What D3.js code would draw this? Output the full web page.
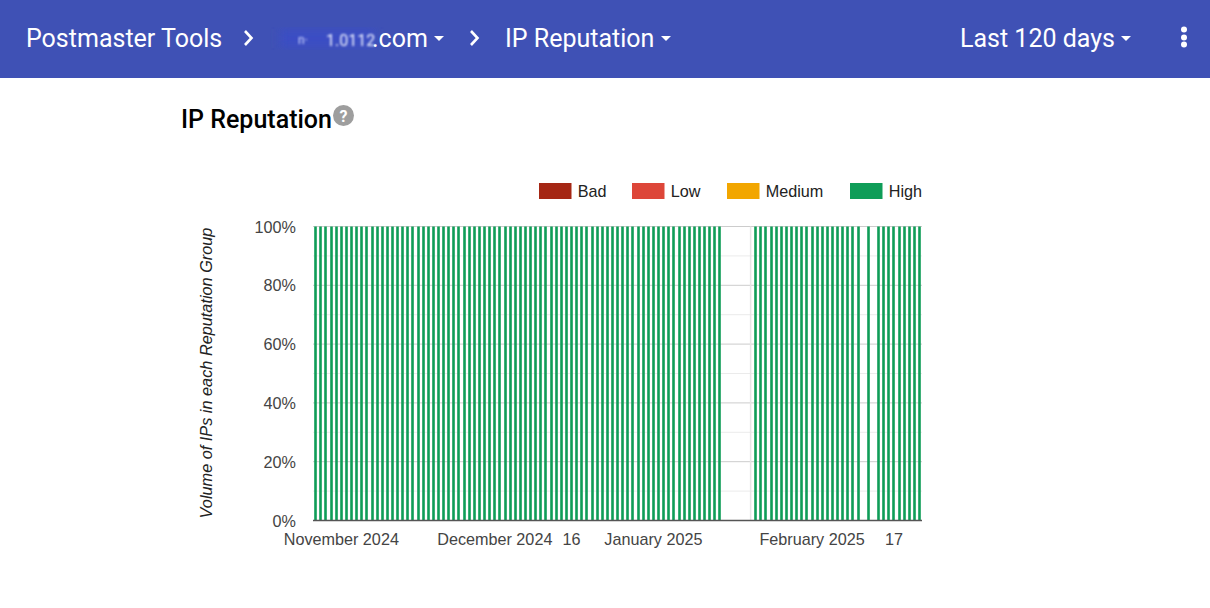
<!DOCTYPE html>
<html><head><meta charset="utf-8">
<script src="https://cdnjs.cloudflare.com/ajax/libs/d3/7.8.5/d3.min.js"></script>
<style>html,body{margin:0;padding:0;background:#fff;overflow:hidden}svg{display:block}</style>
</head><body><svg id="c" width="1210" height="608"></svg>
<script>
const breadcrumb = ["Postmaster Tools", ".com", "IP Reputation"];
const rangeLabel = "Last 120 days";
const chartTitle = "IP Reputation";
const yAxisTitle = "Volume of IPs in each Reputation Group";
const groups = ["Bad", "Low", "Medium", "High"];
const groupColors = ["#a52714", "#dd4639", "#f2a600", "#0f9d58"];
const yTicks = [0, 20, 40, 60, 80, 100];
const yMinorTicks = [10, 30, 50, 70, 90];
const xTickDates = ["2024-11-01", "2024-12-01", "2024-12-16", "2025-01-01", "2025-02-01", "2025-02-17"];
const xTickLabels = ["November 2024", "December 2024", "16", "January 2025", "February 2025", "17"];
const xGridDates = ["2025-01-20"];
const days = [
"2024-10-27","2024-10-28","2024-10-29","2024-10-30","2024-10-31",
"2024-11-01","2024-11-02","2024-11-03","2024-11-04","2024-11-05","2024-11-06","2024-11-07","2024-11-08","2024-11-09","2024-11-10",
"2024-11-11","2024-11-12","2024-11-13","2024-11-14","2024-11-15","2024-11-16","2024-11-17","2024-11-18","2024-11-19","2024-11-20",
"2024-11-21","2024-11-22","2024-11-23","2024-11-24","2024-11-25","2024-11-26","2024-11-27","2024-11-28","2024-11-29","2024-11-30",
"2024-12-01","2024-12-02","2024-12-03","2024-12-04","2024-12-05","2024-12-06","2024-12-07","2024-12-08","2024-12-09","2024-12-10",
"2024-12-11","2024-12-12","2024-12-13","2024-12-14","2024-12-15","2024-12-16","2024-12-17","2024-12-18","2024-12-19","2024-12-20",
"2024-12-21","2024-12-22","2024-12-23","2024-12-24","2024-12-25","2024-12-26","2024-12-27","2024-12-28","2024-12-29","2024-12-30","2024-12-31",
"2025-01-01","2025-01-02","2025-01-03","2025-01-04","2025-01-05","2025-01-06","2025-01-07","2025-01-08","2025-01-09","2025-01-10",
"2025-01-11","2025-01-12","2025-01-13","2025-01-14",
"2025-01-21","2025-01-22","2025-01-23","2025-01-24","2025-01-25","2025-01-26","2025-01-27","2025-01-28","2025-01-29","2025-01-30","2025-01-31",
"2025-02-01","2025-02-02","2025-02-03","2025-02-04","2025-02-05","2025-02-06","2025-02-07","2025-02-08","2025-02-09","2025-02-10",
"2025-02-12","2025-02-14","2025-02-15","2025-02-16","2025-02-17","2025-02-18","2025-02-19","2025-02-20","2025-02-21","2025-02-22"];
const highValues = [
100,100,100,100,100,
100,100,100,100,100,100,100,100,100,100,
100,100,100,100,100,100,100,100,100,100,
100,100,100,100,100,100,100,100,100,100,
100,100,100,100,100,100,100,100,100,100,
100,100,100,100,100,100,100,100,100,100,
100,100,100,100,100,100,100,100,100,100,100,
100,100,100,100,100,100,100,100,100,100,
100,100,100,100,
100,100,100,100,100,100,100,100,100,100,100,
100,100,100,100,100,100,100,100,100,100,
100,100,100,100,100,100,100,100,100,100];

const parse = d3.utcParse("%Y-%m-%d");
const svg = d3.select("#c");
const HEAD = "Roboto, sans-serif", CH = "'Liberation Sans', Arial, sans-serif";

// Header
svg.append("rect").attr("width",1210).attr("height",78).attr("fill","#3f51b5");
const ht = (x,t)=>svg.append("text").attr("x",x).attr("y",46.5).attr("fill","#fff")
  .attr("font-family",HEAD).attr("font-size",25).text(t);
ht(26,breadcrumb[0]);
ht(505,breadcrumb[2]);
ht(960,rangeLabel);
const chevron=x=>svg.append("path").attr("d",`M${x},31 l6.5,7 l-6.5,7`).attr("fill","none").attr("stroke","#fff").attr("stroke-width",2.6);
chevron(245); chevron(471);
const caret=x=>svg.append("path").attr("d",`M${x},36 h10 l-5,5 z`).attr("fill","#fff");
caret(434); caret(661); caret(1121);
[29,37,44].forEach(y=>svg.append("circle").attr("cx",1184).attr("cy",y+.5).attr("r",3).attr("fill","#fff"));
// obscured domain fragment
const defs=svg.append("defs");
defs.append("filter").attr("id","bl").append("feGaussianBlur").attr("stdDeviation",1.1);
defs.append("filter").attr("id","bl2").append("feGaussianBlur").attr("stdDeviation",5);
svg.append("rect").attr("x",280).attr("y",29).attr("width",95).attr("height",19).attr("fill","#3a4ec4").attr("filter","url(#bl2)");
svg.append("text").attr("x",298).attr("y",44).attr("fill","#d5ddff").attr("font-family",HEAD).attr("font-size",12)
  .attr("filter","url(#bl)").text("n·");
svg.append("text").attr("x",326).attr("y",46).attr("fill","#f0f3ff").attr("font-family",HEAD).attr("font-size",16)
  .attr("filter","url(#bl)").text("1.0112");
ht(372,breadcrumb[1]);

// Title
svg.append("text").attr("x",181).attr("y",127.5).attr("fill","#000").attr("font-family",HEAD).attr("font-weight",500).attr("font-size",25).text(chartTitle);
svg.append("circle").attr("cx",343.5).attr("cy",115.5).attr("r",10.5).attr("fill","#9e9e9e");
svg.append("text").attr("x",343.5).attr("y",121.5).attr("fill","#fff").attr("font-family",HEAD).attr("font-weight",700).attr("font-size",16).attr("text-anchor","middle").text("?");

// Scales
const x = d3.scaleUtc().domain([parse("2024-11-01"),parse("2025-02-17")]).range([341.3,893.9]);
const y = d3.scaleLinear().domain([0,100]).range([520.5,226.5]);
const plotL=313, plotR=922;

// Grid
const g=svg.append("g");
g.selectAll(".mn").data(yMinorTicks).join("line").attr("x1",plotL).attr("x2",plotR).attr("y1",d=>y(d)).attr("y2",d=>y(d)).attr("stroke","#ebebeb");
g.selectAll(".mj").data(yTicks.filter(d=>d>0)).join("line").attr("x1",plotL).attr("x2",plotR).attr("y1",d=>y(d)).attr("y2",d=>y(d)).attr("stroke","#cccccc");
g.selectAll(".vg").data(xGridDates).join("line").attr("x1",d=>x(parse(d))).attr("x2",d=>x(parse(d))).attr("y1",y(100)).attr("y2",y(0)).attr("stroke","#e6e6e6").attr("stroke-width",1.5);

// Stacked bars
const rows=days.map((d,i)=>({date:parse(d),Bad:0,Low:0,Medium:0,High:highValues[i]}));
const stack=d3.stack().keys(groups)(rows);
const barW=2.6;
svg.append("g").selectAll("g").data(stack).join("g").attr("fill",(s,i)=>groupColors[i])
 .selectAll("rect").data(s=>s).join("rect")
 .attr("x",d=>Math.round(x(d.data.date)-1.5)+0.2).attr("width",barW)
 .attr("y",d=>y(d[1])).attr("height",d=>y(d[0])-y(d[1]));

// Baseline
svg.append("line").attr("x1",plotL).attr("x2",plotR).attr("y1",y(0)).attr("y2",y(0)).attr("stroke","#555").attr("stroke-width",1.5);

// Axis labels
svg.append("g").selectAll("text").data(yTicks).join("text").attr("x",296).attr("y",d=>y(d)+6)
 .attr("text-anchor","end").attr("font-family",CH).attr("font-size",16.2).attr("fill","#444").text(d=>d+"%");
svg.append("g").selectAll("text").data(xTickDates).join("text").attr("x",d=>x(parse(d))).attr("y",545)
 .attr("text-anchor","middle").attr("font-family",CH).attr("font-size",16.2).attr("fill","#444").text((d,i)=>xTickLabels[i]);
svg.append("text").attr("transform","translate(211.5,373) rotate(-90)").attr("text-anchor","middle")
 .attr("font-family",CH).attr("font-style","italic").attr("font-size",16.3).attr("fill","#222").text(yAxisTitle);

// Legend
const legX=[539,632,727,850];
const lg=svg.append("g").selectAll("g").data(groups).join("g").attr("transform",(d,i)=>`translate(${legX[i]},183)`);
lg.append("rect").attr("width",32.5).attr("height",16).attr("fill",(d,i)=>groupColors[i]);
lg.append("text").attr("x",38.7).attr("y",14).attr("font-family",CH).attr("font-size",16.2).attr("fill","#222").text(d=>d);
</script></body></html>
